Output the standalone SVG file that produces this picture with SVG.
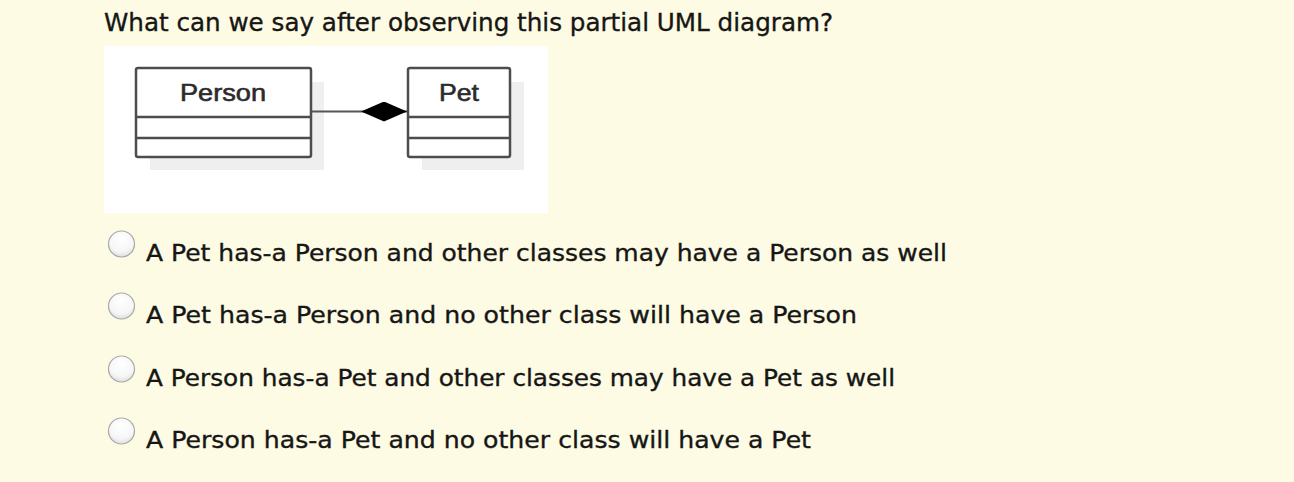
<svg xmlns="http://www.w3.org/2000/svg" width="1294" height="482" viewBox="0 0 1294 482">
<defs>
<radialGradient id="rg" cx="0.5" cy="0.3" r="0.7">
<stop offset="0" stop-color="#ffffff"/>
<stop offset="0.7" stop-color="#f6f6f6"/>
<stop offset="1" stop-color="#dedede"/>
</radialGradient>
<marker id="diamond" viewBox="0 0 46 20" refX="46" refY="10" markerWidth="46" markerHeight="20" markerUnits="userSpaceOnUse" orient="auto">
<path d="M0,10 L23,0 L46,10 L23,20 Z" fill="#000"/>
</marker>
</defs>
<style>
.q{font-family:"DejaVu Sans","Liberation Sans",sans-serif;font-size:23px;fill:#161616;stroke:#161616;stroke-width:0.35}
.t{font-size:24px}
.cls{font-family:"Liberation Sans",Arial,sans-serif;font-size:24px;fill:#2b2b2b;stroke:#2b2b2b;stroke-width:0.6;text-anchor:middle}
.box{fill:#ffffff;stroke:#4d4d4d;stroke-width:2.5}
.sep{stroke:#4d4d4d;stroke-width:2.5}
.shadow{fill:#efefef}
.radio{fill:url(#rg);stroke:#a9a9a9;stroke-width:1.2}
.conn{stroke:#555;stroke-width:2.2;fill:none}
</style>
<rect width="1294" height="482" fill="#fdfbe3"/>
<text id="title" class="q t" x="104" y="31" textLength="729" lengthAdjust="spacingAndGlyphs">What can we say after observing this partial UML diagram?</text>
<rect id="panel" x="104" y="46" width="444" height="167" fill="#ffffff"/>
<g id="person">
<rect class="shadow" x="150" y="82" width="174" height="88"/>
<rect class="box" x="136" y="68" width="175" height="89" rx="2"/>
<line class="sep" x1="136" y1="117" x2="311" y2="117"/>
<line class="sep" x1="136" y1="138" x2="311" y2="138"/>
<text class="cls" x="223" y="101" textLength="86" lengthAdjust="spacingAndGlyphs">Person</text>
</g>
<g id="pet">
<rect class="shadow" x="422" y="82" width="102" height="88"/>
<rect class="box" x="408" y="68" width="102" height="89" rx="2"/>
<line class="sep" x1="408" y1="117" x2="510" y2="117"/>
<line class="sep" x1="408" y1="138" x2="510" y2="138"/>
<text class="cls" x="459" y="101" textLength="40" lengthAdjust="spacingAndGlyphs">Pet</text>
</g>
<g id="connectors">
<line class="conn" x1="311" y1="111.5" x2="407" y2="111.5" marker-end="url(#diamond)"/>
</g>
<g id="option1">
<circle class="radio" cx="121.5" cy="244" r="13"/>
<text class="q" x="146" y="261" textLength="801" lengthAdjust="spacingAndGlyphs">A Pet has-a Person and other classes may have a Person as well</text>
</g>
<g id="option2">
<circle class="radio" cx="121.5" cy="306" r="13"/>
<text class="q" x="146" y="323" textLength="711" lengthAdjust="spacingAndGlyphs">A Pet has-a Person and no other class will have a Person</text>
</g>
<g id="option3">
<circle class="radio" cx="121.5" cy="369" r="13"/>
<text class="q" x="146" y="386" textLength="749" lengthAdjust="spacingAndGlyphs">A Person has-a Pet and other classes may have a Pet as well</text>
</g>
<g id="option4">
<circle class="radio" cx="121.5" cy="431" r="13"/>
<text class="q" x="146" y="448" textLength="665" lengthAdjust="spacingAndGlyphs">A Person has-a Pet and no other class will have a Pet</text>
</g>
</svg>
